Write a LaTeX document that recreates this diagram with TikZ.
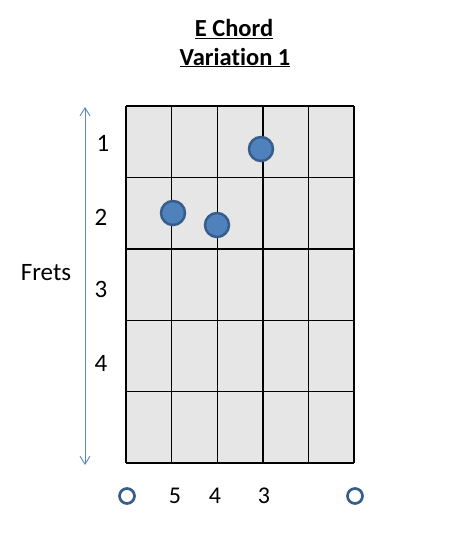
\documentclass[tikz,border=0pt]{standalone}
\usepackage{fontspec}
\setmainfont{Carlito}[Ligatures={NoCommon}]
\usetikzlibrary{arrows.meta}
\definecolor{dotblue}{HTML}{4F81BD}
\definecolor{dotedge}{HTML}{385D8A}
\definecolor{arrowblue}{HTML}{5B86C0}
\definecolor{boardgray}{HTML}{E6E6E6}
\begin{document}
\begin{tikzpicture}[x=1pt, y=-1pt, every node/.style={inner sep=0pt},
  finger/.style={circle, fill=dotblue, draw=dotedge, line width=2.5pt, minimum size=24pt},
  openstring/.style={circle, draw=dotedge, line width=2.7pt, minimum size=15pt},
  fretnum/.style={font=\fontsize{25}{30}\selectfont},
  stringnum/.style={font=\fontsize{24}{29}\selectfont},
  titletext/.style={font=\fontsize{24.5}{29}\selectfont\bfseries, anchor=base}]
\useasboundingbox (0,0) rectangle (461,551);
% Title
\node[titletext] (title) at (234,37) {\underline{E Chord}};
\node[titletext] (variation) at (235,65) {\underline{Variation 1}};
% Fretboard
\fill[boardgray] (126,106) rectangle (354,463);
\foreach \i in {0,...,5} {
  \draw[line width=1.4pt] (126+45.6*\i,106) -- (126+45.6*\i,463);
  \draw[line width=1.4pt] (126,106+71.4*\i) -- (354,106+71.4*\i);
}
% Fret axis
\coordinate (fretstop) at (85,107);
\coordinate (fretsbot) at (85,465);
\draw[arrowblue, line width=0.9pt, {Straight Barb[length=8pt,width=10pt]}-{Straight Barb[length=8pt,width=10pt]}] (fretstop) -- (fretsbot);
\node[fretnum] (frets) at (46,273) {Frets};
\node[fretnum] (fret1) at (103,143) {1};
\node[fretnum] (fret2) at (101,217) {2};
\node[fretnum] (fret3) at (101,289) {3};
\node[fretnum] (fret4) at (101,363) {4};
% Fingers
\node[finger] (dotone) at (261,149) {};
\node[finger] (dottwo) at (173,213) {};
\node[finger] (dotthree) at (217,225) {};
% Strings
\node[openstring] (openlow) at (127,496) {};
\node[stringnum] (str5) at (175,496) {5};
\node[stringnum] (str4) at (215,496) {4};
\node[stringnum] (str3) at (264,496) {3};
\node[openstring] (openhigh) at (355,496) {};
\end{tikzpicture}
\end{document}
